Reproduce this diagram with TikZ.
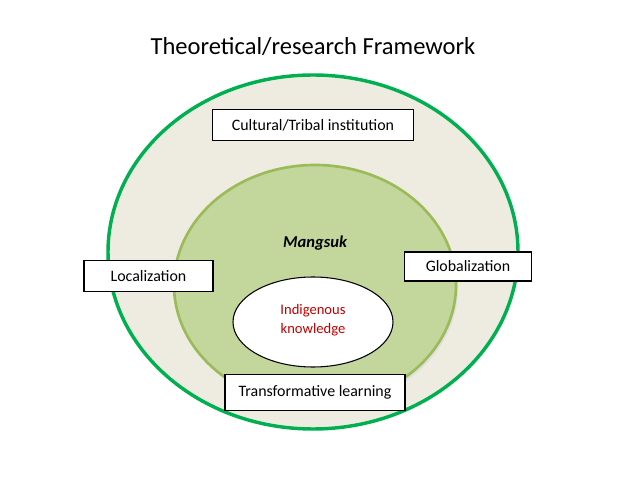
\documentclass[tikz,border=0pt]{standalone}
\usepackage{fontspec}
\setmainfont{Carlito}
\usetikzlibrary{positioning}
\definecolor{outergreen}{HTML}{00B050}
\definecolor{beige}{HTML}{EEECE1}
\definecolor{leaf}{HTML}{C3D69B}
\definecolor{leafline}{HTML}{9BBB59}
\definecolor{knowred}{HTML}{C00000}
\tikzset{
  labelbox/.style={draw, fill=white, thick, inner sep=0pt, font=\fontsize{12}{14}\selectfont},
}
\begin{document}
\begin{tikzpicture}[x=0.0265cm,y=-0.0265cm]
  \useasboundingbox (0,0) rectangle (638,479);
  \node (title) at (313,47) {\fontsize{18.5}{22}\selectfont Theoretical/research Framework};

  \draw[outergreen, line width=2.6pt, fill=beige] (313,252) ellipse (205 and 177);
  \fill[black!12] (317,288) ellipse (141 and 120);
  \draw[leafline, line width=2pt, fill=leaf] (315,285) ellipse (141 and 120);
  \draw[thick, fill=white] (313,322) ellipse (80 and 45);

  \node (mangsuk) at (315,243) {\fontsize{12.5}{14}\selectfont\bfseries\itshape Mangsuk};
  \node[knowred, align=center, font=\fontsize{11}{14}\selectfont] (know) at (313,320) {Indigenous\\knowledge};

  \node[labelbox, minimum width=5.35cm, minimum height=0.8cm] (culture) at (313,125) {Cultural/Tribal institution};
  \node[labelbox, minimum width=3.42cm, minimum height=0.8cm] (local) at (148.5,276) {Localization};
  \node[labelbox, minimum width=3.39cm, minimum height=0.77cm] (global) at (468,266.5) {Globalization};
  \node[labelbox, minimum width=4.77cm, minimum height=0.93cm] (learn) at (315,392.5) {Transformative learning};
\end{tikzpicture}
\end{document}
